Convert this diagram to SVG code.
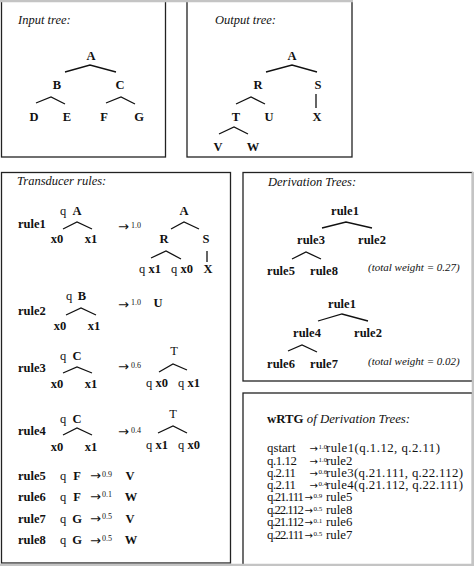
<svg xmlns="http://www.w3.org/2000/svg" width="474" height="566" viewBox="0 0 474 566">
<style>
text{font-family:"Liberation Serif","Times New Roman",serif;fill:#111}
.h{font-size:12.5px;font-style:italic}
.b{font-size:12.5px;font-weight:bold}
.r{font-size:12.5px}
.m{text-anchor:middle}
.s{font-size:8px}
.s2{font-size:7px}
.a{font-family:"DejaVu Sans",sans-serif;font-size:13px}
.a2{font-family:"DejaVu Sans",sans-serif;font-size:10px}
.w{font-size:12.8px}
.box{fill:#fff;stroke:#222;stroke-width:1.3}
.cut{stroke:#c4c4c4;stroke-width:2.5}
.ln{fill:none;stroke:#111;stroke-width:1.3}
</style>
<rect width="474" height="566" fill="#fff"/>

<g id="frames">
<rect class="box" x="1.5" y="1" width="164" height="156"/>
<rect class="box" x="187" y="1" width="165" height="156"/>
<rect class="box" x="1.5" y="172.5" width="229" height="390.5"/>
<rect class="box" x="243" y="172.5" width="229.5" height="208.5"/>
<rect class="box" x="243" y="393" width="229.5" height="175"/>
<line class="cut" x1="0" y1="1" x2="353" y2="1"/>
<line class="cut" x1="473" y1="172" x2="473" y2="566"/>
<line class="cut" x1="0" y1="565" x2="474" y2="565"/>
</g>

<g id="connectors">
<path class="ln" d="M65,72 L90,65 L116,72"/>
<path class="ln" d="M36,103 L51,97 L65,104"/>
<path class="ln" d="M106,103 L121,97 L135,104"/>
<path class="ln" d="M266,72 L292,65 L317,72"/>
<path class="ln" d="M236,104 L251,97 L265,104"/>
<path class="ln" d="M316,94 L316,108"/>
<path class="ln" d="M219,134 L234,127 L248,134"/>
<path class="ln" d="M63,229 L77,222 L92,229"/>
<path class="ln" d="M171,229 L184,222 L199,229"/>
<path class="ln" d="M151,258 L166,251 L181,259"/>
<path class="ln" d="M207,251 L207,262"/>
<path class="ln" d="M66,315 L81,308 L96,315"/>
<path class="ln" d="M63,373 L77,367 L92,373"/>
<path class="ln" d="M159,372 L173,364 L187,370"/>
<path class="ln" d="M63,435 L77,428 L92,435"/>
<path class="ln" d="M158,433 L173,426 L187,433"/>
<path class="ln" d="M322,228 L346,222 L372,228"/>
<path class="ln" d="M292,259 L306,252 L321,259"/>
<path class="ln" d="M318,321 L342,314 L368,321"/>
<path class="ln" d="M288,351 L302,345 L317,352"/>
</g>

<g id="input-tree">
<text class="h" x="18" y="24">Input tree:</text>
<text id="in-A" class="b m" x="91" y="60">A</text>
<text id="in-B" class="b m" x="57" y="89">B</text>
<text id="in-C" class="b m" x="120" y="89">C</text>
<text id="in-D" class="b m" x="34" y="121">D</text>
<text id="in-E" class="b m" x="67" y="121">E</text>
<text id="in-F" class="b m" x="104" y="121">F</text>
<text id="in-G" class="b m" x="139" y="121">G</text>
</g>

<g id="output-tree">
<text class="h" x="215" y="24">Output tree:</text>
<text id="out-A" class="b m" x="292" y="60">A</text>
<text id="out-R" class="b m" x="258" y="89">R</text>
<text id="out-S" class="b m" x="318" y="89">S</text>
<text id="out-T" class="b m" x="236" y="121">T</text>
<text id="out-U" class="b m" x="269" y="121">U</text>
<text id="out-X" class="b m" x="317" y="121">X</text>
<text id="out-V" class="b m" x="218" y="151">V</text>
<text id="out-W" class="b m" x="253" y="151">W</text>
</g>

<g id="transducer-rules">
<text class="h" x="17" y="185">Transducer rules:</text>
<g id="rule1">
<text class="b" x="18" y="228">rule1</text>
<text class="r m" x="63" y="215">q</text><text class="b m" x="77" y="215">A</text>
<text class="b m" x="57" y="243">x0</text><text class="b m" x="91" y="243">x1</text>
<text class="a" x="118" y="231">→</text><text class="s" x="131" y="228">1.0</text>
<text class="b m" x="184" y="215">A</text>
<text class="b m" x="164" y="243">R</text><text class="b m" x="206" y="243">S</text>
<text class="r m" x="150" y="273">q <tspan class="b">x1</tspan></text>
<text class="r m" x="182" y="273">q <tspan class="b">x0</tspan></text>
<text class="b m" x="208" y="273">X</text>
</g>
<g id="rule2">
<text class="b" x="18" y="315">rule2</text>
<text class="r m" x="69" y="300">q</text><text class="b m" x="82" y="300">B</text>
<text class="b m" x="60" y="330">x0</text><text class="b m" x="94" y="330">x1</text>
<text class="a" x="118" y="309">→</text><text class="s" x="131" y="305">1.0</text>
<text class="b m" x="158" y="307">U</text>
</g>
<g id="rule3">
<text class="b" x="18" y="372">rule3</text>
<text class="r m" x="63" y="360">q</text><text class="b m" x="77" y="360">C</text>
<text class="b m" x="57" y="388">x0</text><text class="b m" x="91" y="388">x1</text>
<text class="a" x="118" y="371">→</text><text class="s" x="131" y="368">0.6</text>
<text class="r m" x="174" y="355">T</text>
<text class="r m" x="157" y="387">q <tspan class="b">x0</tspan></text>
<text class="r m" x="189" y="387">q <tspan class="b">x1</tspan></text>
</g>
<g id="rule4">
<text class="b" x="18" y="435">rule4</text>
<text class="r m" x="63" y="423">q</text><text class="b m" x="77" y="423">C</text>
<text class="b m" x="57" y="451">x0</text><text class="b m" x="91" y="451">x1</text>
<text class="a" x="118" y="436">→</text><text class="s" x="131" y="433">0.4</text>
<text class="r m" x="173" y="418">T</text>
<text class="r m" x="157" y="449">q <tspan class="b">x1</tspan></text>
<text class="r m" x="189" y="449">q <tspan class="b">x0</tspan></text>
</g>
<g id="rule5">
<text class="b" x="18" y="480">rule5</text>
<text class="r m" x="63" y="480">q</text><text class="b m" x="77" y="480">F</text>
<text class="a" x="90" y="480">→</text><text class="s" x="102" y="477">0.9</text>
<text class="b m" x="130" y="480">V</text>
</g>
<g id="rule6">
<text class="b" x="18" y="501">rule6</text>
<text class="r m" x="63" y="501">q</text><text class="b m" x="77" y="501">F</text>
<text class="a" x="90" y="501">→</text><text class="s" x="102" y="497">0.1</text>
<text class="b m" x="131" y="501">W</text>
</g>
<g id="rule7">
<text class="b" x="18" y="523">rule7</text>
<text class="r m" x="63" y="523">q</text><text class="b m" x="77" y="523">G</text>
<text class="a" x="90" y="523">→</text><text class="s" x="102" y="519">0.5</text>
<text class="b m" x="130" y="523">V</text>
</g>
<g id="rule8">
<text class="b" x="18" y="544">rule8</text>
<text class="r m" x="63" y="544">q</text><text class="b m" x="77" y="544">G</text>
<text class="a" x="90" y="545">→</text><text class="s" x="102" y="541">0.5</text>
<text class="b m" x="131" y="544">W</text>
</g>
</g>

<g id="derivation-trees">
<text class="h" x="268" y="186">Derivation Trees:</text>
<text id="d1-rule1" class="b m" x="345" y="215">rule1</text>
<text id="d1-rule3" class="b m" x="311" y="244">rule3</text>
<text id="d1-rule2" class="b m" x="372" y="244">rule2</text>
<text id="d1-rule5" class="b m" x="281" y="275">rule5</text>
<text id="d1-rule8" class="b m" x="324" y="275">rule8</text>
<text class="h" x="368" y="271" style="font-size:11px">(total weight = 0.27)</text>
<text id="d2-rule1" class="b m" x="342" y="308">rule1</text>
<text id="d2-rule4" class="b m" x="307" y="337">rule4</text>
<text id="d2-rule2" class="b m" x="368" y="337">rule2</text>
<text id="d2-rule6" class="b m" x="281" y="368">rule6</text>
<text id="d2-rule7" class="b m" x="324" y="368">rule7</text>
<text class="h" x="368" y="365" style="font-size:11px">(total weight = 0.02)</text>
</g>

<g id="wrtg">
<text class="w" x="267" y="423"><tspan font-weight="bold">wRTG</tspan> <tspan font-style="italic">of Derivation Trees:</tspan></text>
<text class="w" x="267" y="452">qstart</text><text class="a2" x="309.5" y="452">→</text><text class="s2" x="318.5" y="449">1.0</text><text class="w" x="326" y="452" textLength="114" lengthAdjust="spacing">rule1(q.1.12, q.2.11)</text>
<text class="w" x="267" y="465" textLength="30">q.1.12</text><text class="a2" x="309.5" y="465">→</text><text class="s2" x="318.5" y="462">1.0</text><text class="w" x="326" y="465">rule2</text>
<text class="w" x="267" y="477" textLength="29">q.2.11</text><text class="a2" x="309.5" y="477">→</text><text class="s2" x="318.5" y="474">0.6</text><text class="w" x="326" y="477" textLength="137" lengthAdjust="spacing">rule3(q.21.111, q.22.112)</text>
<text class="w" x="267" y="489" textLength="29">q.2.11</text><text class="a2" x="309.5" y="489">→</text><text class="s2" x="318.5" y="486">0.4</text><text class="w" x="326" y="489" textLength="137" lengthAdjust="spacing">rule4(q.21.112, q.22.111)</text>
<text class="w" x="267" y="501" textLength="37">q.21.111</text><text class="a2" x="304.5" y="501">→</text><text class="s2" x="313.5" y="498">0.9</text><text class="w" x="326" y="501">rule5</text>
<text class="w" x="267" y="514" textLength="37">q.22.112</text><text class="a2" x="304.5" y="514">→</text><text class="s2" x="313.5" y="511">0.5</text><text class="w" x="326" y="514">rule8</text>
<text class="w" x="267" y="526" textLength="37">q.21.112</text><text class="a2" x="304.5" y="526">→</text><text class="s2" x="313.5" y="523">0.1</text><text class="w" x="326" y="526">rule6</text>
<text class="w" x="267" y="539" textLength="37">q.22.111</text><text class="a2" x="304.5" y="539">→</text><text class="s2" x="313.5" y="536">0.5</text><text class="w" x="326" y="539">rule7</text>
</g>
</svg>
